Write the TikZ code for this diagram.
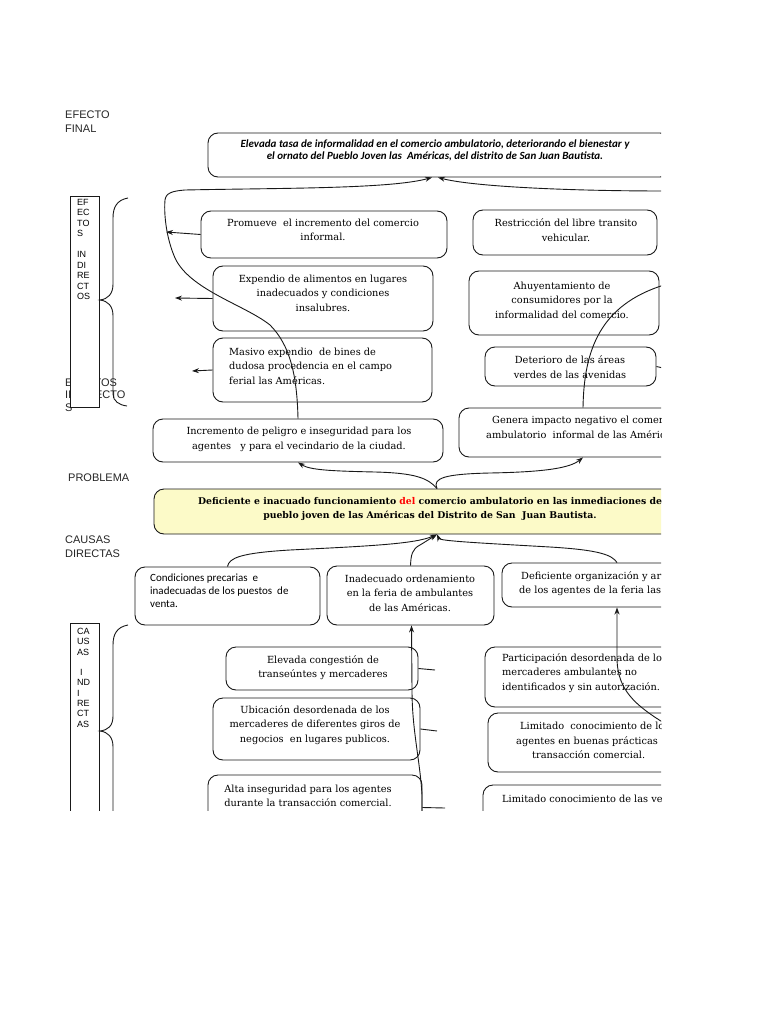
\documentclass[tikz,border=0pt]{standalone}
\usepackage{fontspec}
\setmainfont{DejaVu Serif}
\newfontfamily\lsans{Liberation Sans}
\newfontfamily\carl{Carlito}
\usetikzlibrary{arrows.meta,fit}
\definecolor{probfill}{RGB}{252,250,200}
\begin{document}
\begin{tikzpicture}[x=1pt,y=-1pt,
 box/.style={draw=black!90, line width=0.9pt, rounded corners=10pt, fill=white, inner sep=0pt},
 tx/.style={font=\fontsize{9.8}{14.4}\selectfont, align=center, inner sep=0pt, text=black},
 txl/.style={tx, align=left, anchor=west},
 cb/.style={font=\carl\fontsize{11}{12.8}\selectfont, align=left, anchor=west, inner sep=0pt},
 lab/.style={font=\lsans\fontsize{11}{14}\selectfont, align=left, anchor=west, inner sep=0pt, text=black!85},
 vlab/.style={font=\lsans\fontsize{9}{10.5}\selectfont, align=left, anchor=north west, inner sep=0pt},
 rbox/.style={draw=black!90, line width=0.9pt, fill=white, inner sep=0pt},
 conn/.style={draw=black!90, line width=0.9pt},
 arr/.style={conn, -{Stealth[length=7pt,width=5pt]}}]
\useasboundingbox (0,0) rectangle (768,1024);
\fill[white] (0,0) rectangle (768,1024);
\begin{scope}
\clip (0,0) rectangle (661,810);
% labels
\node[lab] (lEF) at (65,122) {EFECTO\\FINAL};
\node[lab, font=\lsans\fontsize{11}{12.6}\selectfont] (lEI) at (65,395) {EFECTOS\\INDIRECTO\\S};
\node[lab] (lPR) at (68,478) {PROBLEMA};
\node[lab] (lCD) at (65,547) {CAUSAS\\DIRECTAS};
% side rectangles
\node[rbox, fit={(70,196) (99,407)}] (rEI) {};
\node[vlab] (rEIt) at (77,199) {EF\\EC\\TO\\S\\\mbox{}\\IN\\DI\\RE\\CT\\OS};
\node[rbox, fit={(70,623) (99,840)}] (rCI) {};
\node[vlab, font=\lsans\fontsize{9}{10.3}\selectfont] (rCIt) at (77,628) {CA\\US\\AS\\\mbox{}\\\hspace{3pt}I\\ND\\I\\RE\\CT\\AS};
% braces
\draw[conn] (128,198) .. controls (117,200) and (113,207) .. (113,218) -- (113,284) .. controls (113,294) and (108,299) .. (100,300) .. controls (108,301) and (113,306) .. (113,316) -- (113,394) .. controls (113,401) and (119,405) .. (127,406);
\draw[conn] (128,625) .. controls (117,627) and (113,634) .. (113,645) -- (113,716) .. controls (113,726) and (108,730) .. (100,731) .. controls (108,732) and (113,737) .. (113,747) -- (113,830);
% boxes
\node[box, fit={(208,133) (670,177)}] (top) {};
\node[box, fit={(201,211) (447,258)}] (prom) {};
\node[box, fit={(473,210) (657,255)}] (restr) {};
\node[box, fit={(213,266) (433,331)}] (exp) {};
\node[box, fit={(469,271) (659,335)}] (ahu) {};
\node[box, fit={(213,338) (432,402)}] (mas) {};
\node[box, fit={(485,347) (656,386)}] (det) {};
\node[box, fit={(153,419) (443,462)}] (inc) {};
\node[box, fit={(459,408) (720,457)}] (gen) {};
\node[box, fill=probfill, fit={(154,489) (720,534)}] (prob) {};
\node[box, fit={(135,567) (320,625)}] (cond) {};
\node[box, fit={(327,566) (494,625)}] (inad) {};
\node[box, fit={(502,563) (740,607)}] (defo) {};
\node[box, fit={(226,647) (418,690)}] (cong) {};
\node[box, fit={(213,698) (420,760)}] (ubi) {};
\node[box, fit={(208,775) (422,840)}] (alta) {};
\node[box, fit={(485,647) (740,707)}] (part) {};
\node[box, fit={(488,713) (740,772)}] (lim) {};
\node[box, fit={(483,785) (740,850)}] (limv) {};
% texts
\node[font=\carl\bfseries\itshape\fontsize{11}{12.5}\selectfont, align=center, inner sep=0pt] (topT) at (435,150.5) {Elevada tasa de informalidad en el comercio ambulatorio, deteriorando el bienestar y\\el ornato del Pueblo Joven las\ \ Américas, del distrito de San Juan Bautista.};
\node[tx] (promT) at (323,230) {Promueve\ \ el incremento del comercio\\informal.};
\node[tx] (restrT) at (566,230) {Restricción del libre transito\\vehicular.};
\node[tx] (expT) at (323,293) {Expendio de alimentos en lugares\\inadecuados y condiciones\\insalubres.};
\node[tx] (ahuT) at (562,300) {Ahuyentamiento de\\consumidores por la\\informalidad del comercio.};
\node[txl] (masT) at (229,366) {Masivo expendio\ \ de bines de\\dudosa procedencia en el campo\\ferial las Américas.};
\node[tx] (detT) at (570,367) {Deterioro de las áreas\\verdes de las avenidas};
\node[tx] (incT) at (299,439.5) {Incremento de peligro e inseguridad para los\\agentes\ \ \ y para el vecindario de la ciudad.};
\node[txl] (genT) at (486,427.5) {\hspace{6pt}Genera impacto negativo el comercio\\ambulatorio\ \ informal de las Américas};
\node[font=\bfseries\fontsize{9.3}{14.5}\selectfont, align=center, inner sep=0pt] (probT) at (430,509) {Deficiente e inacuado funcionamiento \textcolor{red}{del} comercio ambulatorio en las inmediaciones de\\pueblo joven de las Américas del Distrito de San\ \ Juan Bautista.};
\node[cb] (condT) at (150,590.5) {Condiciones precarias\ \ e\\inadecuadas de los puestos\ \ de\\venta.};
\node[tx] (inadT) at (410,593) {Inadecuado ordenamiento\\en la feria de ambulantes\\de las Américas.};
\node[txl] (defoT) at (519,583.5) {\hspace{2pt}Deficiente organización y ar\\de los agentes de la feria las};
\node[tx] (congT) at (323,667.5) {Elevada congestión de\\transeúntes y mercaderes};
\node[tx] (ubiT) at (315,725) {Ubicación desordenada de los\\mercaderes de diferentes giros de\\negocios\ \ en lugares publicos.};
\node[tx] (altaT) at (308,796) {Alta inseguridad para los agentes\\durante la transacción comercial.};
\node[txl] (partT) at (502,673) {Participación desordenada de los\\mercaderes ambulantes no\\identificados y sin autorización.};
\node[txl] (limT) at (516,740.5) {\hspace{4pt}Limitado\ \ conocimiento de los\\agentes en buenas prácticas\\\hspace{16pt}transacción comercial.};
\node[txl] (limvT) at (502,799) {Limitado conocimiento de las ve};
% free ends
\coordinate (pA) at (166,232);
\coordinate (eA) at (175,298);
\coordinate (mA) at (192,371);
\coordinate (rIn) at (665,191);
\coordinate (gR) at (664,285);
\coordinate (dS) at (663,368);
\coordinate (iB) at (422,815);
\coordinate (dR) at (664,723);
\coordinate (cS) at (435,670);
\coordinate (uS) at (437,731);
\coordinate (aS) at (445,808);
% connectors: effects
\draw[arr] (prom.west) -- (pA);
\draw[arr] (exp.west) -- (eA);
\draw[arr] (mas.west) -- (mA);
\draw[arr] (inc.north) .. controls (297,375) and (290,345) .. (270,325) .. controls (245,305) and (190,290) .. (175,258) .. controls (165,235) and (164,210) .. (165,200) .. controls (166,193) and (172,191) .. (185,190) .. controls (280,188) and (390,189) .. ([xshift=-7pt]top.south);
\draw[arr] (rIn) .. controls (560,191) and (470,186) .. ([xshift=-1pt]top.south);
\draw[conn] ([xshift=-6.5pt]gen.north) .. controls (584,350) and (600,305) .. (gR);
\draw[conn] (det.east) -- (dS);
\draw[arr] (prob.north) .. controls (428,478) and (415,473) .. (375,472) .. controls (330,471) and (310,470) .. (inc.south);
\draw[arr] (prob.north) .. controls (432,478) and (445,474) .. (490,473) .. controls (545,472) and (570,468) .. ([xshift=-6.5pt]gen.south);
% connectors: causes
\draw[arr] (cond.north) .. controls (229,558) and (240,553) .. (290,550) .. controls (370,546) and (415,544) .. (prob.south);
\draw[arr] (inad.north) .. controls (411,555) and (412,549) .. (420,545) .. controls (425,542) and (428,540) .. (prob.south);
\draw[arr] ([xshift=-4pt]defo.north) .. controls (612,555) and (600,550) .. (550,547) .. controls (480,543) and (440,541) .. (prob.south);
\draw[arr] (iB) -- (422,795) .. controls (420,760) and (412,730) .. (412,690) -- ([xshift=1pt]inad.south);
\draw[arr] (dR) .. controls (635,705) and (618,690) .. (617,660) -- ([xshift=-4pt]defo.south);
\draw[conn] (cong.east) -- (cS);
\draw[conn] (ubi.east) -- (uS);
\draw[conn] (alta.east) -- (aS);
\end{scope}
\end{tikzpicture}
\end{document}
